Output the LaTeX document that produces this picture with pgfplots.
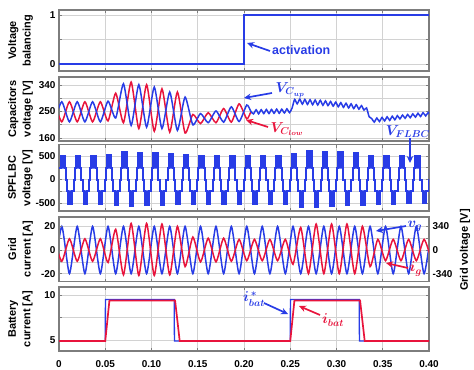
\documentclass[border=0pt]{standalone}
\usepackage{pgfplots}
\pgfplotsset{compat=1.18}
\usepackage{amsmath}
\usepackage{fontspec}
\setmainfont{Liberation Sans}
\usetikzlibrary{arrows.meta}
\definecolor{mblue}{RGB}{40,60,230}
\definecolor{mred}{RGB}{232,20,60}
\definecolor{frm}{RGB}{125,125,125}
\definecolor{grd}{RGB}{210,210,210}
\pgfplotsset{
  panel/.style={
    scale only axis, width=370bp, xmin=0, xmax=0.4,
    xtick={0,0.05,0.1,0.15,0.2,0.25,0.3,0.35,0.4},
    xticklabels={},
    grid=major, grid style={grd, line width=0.7bp},
    axis line style={frm, line width=1.1bp},
    tick style={frm, line width=0.8bp},
    major tick length=3bp,
    tick label style={font=\bfseries\fontsize{10}{12}\selectfont},
    anchor=north west,
  },
}
\tikzset{
  ylab/.style={rotate=90, align=center, font=\bfseries\fontsize{11}{14.5}\selectfont},
  arr/.style={line width=1.7bp, -{Stealth[length=7bp,width=6.5bp]}},
  ann/.style={font=\fontsize{14.5}{14.5}\selectfont, inner sep=0.5bp},
}
\begin{document}
\begin{tikzpicture}
\useasboundingbox (0,0) rectangle (474bp,-370bp);

% ---------- Panel 1
\begin{axis}[panel, at={(59bp,-10bp)}, height=61bp, ymin=-0.14, ymax=1.1,
  ytick={0,0.5,1}, yticklabels={0,,1}]
\addplot[mblue, line width=1.3bp] coordinates {(0,0) (0.2,0) (0.2,1) (0.4,1)};
\end{axis}

% ---------- Panel 2
\begin{axis}[panel, at={(59bp,-77bp)}, height=64bp, ymin=150, ymax=367,
  ytick={160,205,250,295,340}, yticklabels={160,,250,,340}]
\addplot[mred, line width=1.5bp, smooth, tension=0.36] coordinates {
(-0.0053,283) (0.0030,215) (0.0113,283) (0.0197,215) (0.0280,283) (0.0363,215) (0.0447,283)
(0.0530,218) (0.0613,312) (0.0697,212) (0.0780,350) (0.0863,192) (0.0947,341) (0.1030,183)
(0.1113,327) (0.1197,180) (0.1280,316) (0.1363,177) (0.1447,240) (0.1530,209) (0.1613,246)
(0.1697,212) (0.1780,260) (0.1863,214) (0.1947,276) (0.2030,225) (0.2075,250)};
\addplot[mblue, line width=1.5bp, smooth, tension=0.36] coordinates {
(-0.0053,215) (0.0030,283) (0.0113,215) (0.0197,283) (0.0280,215) (0.0363,283) (0.0447,215)
(0.0530,285) (0.0613,228) (0.0697,344) (0.0780,203) (0.0863,341) (0.0947,197) (0.1030,333)
(0.1113,192) (0.1197,316) (0.1280,186) (0.1363,299) (0.1447,205) (0.1530,243) (0.1613,212)
(0.1697,252) (0.1780,214) (0.1863,266) (0.1947,216) (0.2030,272) (0.2075,250)
(0.2103,242) (0.2131,256) (0.2158,242) (0.2186,256) (0.2214,243) (0.2242,257) (0.2270,243)
(0.2297,257) (0.2325,244) (0.2353,258) (0.2381,244) (0.2408,258) (0.2436,245) (0.2464,259)
(0.2492,246) (0.2520,262) (0.2547,291) (0.2575,276) (0.2603,292) (0.2631,275) (0.2658,291)
(0.2686,274) (0.2714,290) (0.2742,273) (0.2769,289) (0.2797,272) (0.2825,288) (0.2853,271)
(0.2881,286) (0.2908,270) (0.2936,284) (0.2964,268) (0.2992,282) (0.3019,266) (0.3047,280)
(0.3075,264) (0.3103,278) (0.3131,262) (0.3158,276) (0.3186,260) (0.3214,273) (0.3242,258)
(0.3270,270) (0.3297,255) (0.3325,262) (0.3353,232) (0.3381,226) (0.3408,214) (0.3436,228)
(0.3464,216) (0.3492,230) (0.3520,218) (0.3547,232) (0.3575,220) (0.3603,234) (0.3631,222)
(0.3658,236) (0.3686,225) (0.3714,238) (0.3742,227) (0.3769,240) (0.3797,229) (0.3825,242)
(0.3853,231) (0.3881,244) (0.3908,233) (0.3936,246) (0.3964,235) (0.3992,247) (0.4019,236)};
\end{axis}

% ---------- Panel 3
\begin{axis}[panel, at={(59bp,-144.5bp)}, height=66.5bp, ymin=-670, ymax=745,
  ytick={-500,-250,0,250,500}, yticklabels={-500,,0,,500}]
\addplot[mblue, line width=2bp, const plot] coordinates {
(0.0000,250)
(0.0018,510) (0.0065,250) (0.0075,0) (0.0088,-250) (0.0100,-520) (0.0137,-250) (0.0162,0) (0.0173,250)
(0.0185,510) (0.0232,250) (0.0242,0) (0.0255,-250) (0.0267,-520) (0.0304,-250) (0.0329,0) (0.0340,250)
(0.0351,510) (0.0398,250) (0.0408,0) (0.0421,-250) (0.0433,-525) (0.0470,-250) (0.0495,0) (0.0506,250)
(0.0518,520) (0.0565,250) (0.0575,0) (0.0588,-250) (0.0600,-535) (0.0637,-250) (0.0662,0) (0.0673,250)
(0.0685,585) (0.0732,250) (0.0742,0) (0.0755,-250) (0.0767,-555) (0.0804,-250) (0.0829,0) (0.0840,250)
(0.0851,570) (0.0898,250) (0.0908,0) (0.0921,-250) (0.0933,-550) (0.0970,-250) (0.0995,0) (0.1006,250)
(0.1018,555) (0.1065,250) (0.1075,0) (0.1088,-250) (0.1100,-540) (0.1137,-250) (0.1162,0) (0.1173,250)
(0.1185,535) (0.1232,250) (0.1242,0) (0.1255,-250) (0.1267,-525) (0.1304,-250) (0.1329,0) (0.1340,250)
(0.1351,515) (0.1398,250) (0.1408,0) (0.1421,-250) (0.1433,-520) (0.1470,-250) (0.1495,0) (0.1506,250)
(0.1518,510) (0.1565,250) (0.1575,0) (0.1588,-250) (0.1600,-520) (0.1637,-250) (0.1662,0) (0.1673,250)
(0.1685,505) (0.1732,250) (0.1742,0) (0.1755,-250) (0.1767,-520) (0.1804,-250) (0.1829,0) (0.1840,250)
(0.1851,505) (0.1898,250) (0.1908,0) (0.1921,-250) (0.1933,-520) (0.1970,-250) (0.1995,0) (0.2006,250)
(0.2018,500) (0.2065,250) (0.2075,0) (0.2088,-250) (0.2100,-520) (0.2137,-250) (0.2162,0) (0.2173,250)
(0.2185,500) (0.2232,250) (0.2242,0) (0.2255,-250) (0.2267,-525) (0.2304,-250) (0.2329,0) (0.2340,250)
(0.2351,505) (0.2398,250) (0.2408,0) (0.2421,-250) (0.2433,-530) (0.2470,-250) (0.2495,0) (0.2506,250)
(0.2518,545) (0.2565,250) (0.2575,0) (0.2588,-250) (0.2600,-590) (0.2637,-250) (0.2662,0) (0.2673,250)
(0.2685,615) (0.2732,250) (0.2742,0) (0.2755,-250) (0.2767,-575) (0.2804,-250) (0.2829,0) (0.2840,250)
(0.2851,595) (0.2898,250) (0.2908,0) (0.2921,-250) (0.2933,-565) (0.2970,-250) (0.2995,0) (0.3006,250)
(0.3018,575) (0.3065,250) (0.3075,0) (0.3088,-250) (0.3100,-550) (0.3137,-250) (0.3162,0) (0.3173,250)
(0.3185,555) (0.3232,250) (0.3242,0) (0.3255,-250) (0.3267,-540) (0.3304,-250) (0.3329,0) (0.3340,250)
(0.3351,505) (0.3398,250) (0.3408,0) (0.3421,-250) (0.3433,-525) (0.3470,-250) (0.3495,0) (0.3506,250)
(0.3518,495) (0.3565,250) (0.3575,0) (0.3588,-250) (0.3600,-515) (0.3637,-250) (0.3662,0) (0.3673,250)
(0.3685,490) (0.3732,250) (0.3742,0) (0.3755,-250) (0.3767,-510) (0.3804,-250) (0.3829,0) (0.3840,250)
(0.3851,490) (0.3898,250) (0.3908,0) (0.3921,-250) (0.3933,-510) (0.3970,-250) (0.3995,0) (0.4010,0)};
\addplot[mblue, fill=mblue, draw=none, unbounded coords=jump] coordinates {
(0.0018,230) (0.0018,510) (0.0065,510) (0.0065,230) (0.0065,nan)
(0.0100,-230) (0.0100,-520) (0.0137,-520) (0.0137,-230) (0.0137,nan)
(0.0185,230) (0.0185,510) (0.0232,510) (0.0232,230) (0.0232,nan)
(0.0267,-230) (0.0267,-520) (0.0304,-520) (0.0304,-230) (0.0304,nan)
(0.0351,230) (0.0351,510) (0.0398,510) (0.0398,230) (0.0398,nan)
(0.0433,-230) (0.0433,-525) (0.0470,-525) (0.0470,-230) (0.0470,nan)
(0.0518,230) (0.0518,520) (0.0565,520) (0.0565,230) (0.0565,nan)
(0.0600,-230) (0.0600,-535) (0.0637,-535) (0.0637,-230) (0.0637,nan)
(0.0685,230) (0.0685,585) (0.0732,585) (0.0732,230) (0.0732,nan)
(0.0767,-230) (0.0767,-555) (0.0804,-555) (0.0804,-230) (0.0804,nan)
(0.0851,230) (0.0851,570) (0.0898,570) (0.0898,230) (0.0898,nan)
(0.0933,-230) (0.0933,-550) (0.0970,-550) (0.0970,-230) (0.0970,nan)
(0.1018,230) (0.1018,555) (0.1065,555) (0.1065,230) (0.1065,nan)
(0.1100,-230) (0.1100,-540) (0.1137,-540) (0.1137,-230) (0.1137,nan)
(0.1185,230) (0.1185,535) (0.1232,535) (0.1232,230) (0.1232,nan)
(0.1267,-230) (0.1267,-525) (0.1304,-525) (0.1304,-230) (0.1304,nan)
(0.1351,230) (0.1351,515) (0.1398,515) (0.1398,230) (0.1398,nan)
(0.1433,-230) (0.1433,-520) (0.1470,-520) (0.1470,-230) (0.1470,nan)
(0.1518,230) (0.1518,510) (0.1565,510) (0.1565,230) (0.1565,nan)
(0.1600,-230) (0.1600,-520) (0.1637,-520) (0.1637,-230) (0.1637,nan)
(0.1685,230) (0.1685,505) (0.1732,505) (0.1732,230) (0.1732,nan)
(0.1767,-230) (0.1767,-520) (0.1804,-520) (0.1804,-230) (0.1804,nan)
(0.1851,230) (0.1851,505) (0.1898,505) (0.1898,230) (0.1898,nan)
(0.1933,-230) (0.1933,-520) (0.1970,-520) (0.1970,-230) (0.1970,nan)
(0.2018,230) (0.2018,500) (0.2065,500) (0.2065,230) (0.2065,nan)
(0.2100,-230) (0.2100,-520) (0.2137,-520) (0.2137,-230) (0.2137,nan)
(0.2185,230) (0.2185,500) (0.2232,500) (0.2232,230) (0.2232,nan)
(0.2267,-230) (0.2267,-525) (0.2304,-525) (0.2304,-230) (0.2304,nan)
(0.2351,230) (0.2351,505) (0.2398,505) (0.2398,230) (0.2398,nan)
(0.2433,-230) (0.2433,-530) (0.2470,-530) (0.2470,-230) (0.2470,nan)
(0.2518,230) (0.2518,545) (0.2565,545) (0.2565,230) (0.2565,nan)
(0.2600,-230) (0.2600,-590) (0.2637,-590) (0.2637,-230) (0.2637,nan)
(0.2685,230) (0.2685,615) (0.2732,615) (0.2732,230) (0.2732,nan)
(0.2767,-230) (0.2767,-575) (0.2804,-575) (0.2804,-230) (0.2804,nan)
(0.2851,230) (0.2851,595) (0.2898,595) (0.2898,230) (0.2898,nan)
(0.2933,-230) (0.2933,-565) (0.2970,-565) (0.2970,-230) (0.2970,nan)
(0.3018,230) (0.3018,575) (0.3065,575) (0.3065,230) (0.3065,nan)
(0.3100,-230) (0.3100,-550) (0.3137,-550) (0.3137,-230) (0.3137,nan)
(0.3185,230) (0.3185,555) (0.3232,555) (0.3232,230) (0.3232,nan)
(0.3267,-230) (0.3267,-540) (0.3304,-540) (0.3304,-230) (0.3304,nan)
(0.3351,230) (0.3351,505) (0.3398,505) (0.3398,230) (0.3398,nan)
(0.3433,-230) (0.3433,-525) (0.3470,-525) (0.3470,-230) (0.3470,nan)
(0.3518,230) (0.3518,495) (0.3565,495) (0.3565,230) (0.3565,nan)
(0.3600,-230) (0.3600,-515) (0.3637,-515) (0.3637,-230) (0.3637,nan)
(0.3685,230) (0.3685,490) (0.3732,490) (0.3732,230) (0.3732,nan)
(0.3767,-230) (0.3767,-510) (0.3804,-510) (0.3804,-230) (0.3804,nan)
(0.3851,230) (0.3851,490) (0.3898,490) (0.3898,230) (0.3898,nan)
(0.3933,-230) (0.3933,-510) (0.3970,-510) (0.3970,-230)};
\end{axis}

% ---------- Panel 4 (right axis, grid voltage)
\begin{axis}[panel, at={(59bp,-217bp)}, height=64.5bp, ymin=-452.2, ymax=474.3,
  axis y line*=right, ytick={-340,-170,0,170,340}, yticklabels={-340,,0,,340}]
\addplot[mblue, line width=1.5bp, smooth, tension=0.36] coordinates {
(-0.0053,-340) (0.0030,340) (0.0113,-340) (0.0197,340) (0.0280,-340) (0.0363,340) (0.0447,-340)
(0.0530,340) (0.0613,-340) (0.0697,340) (0.0780,-340) (0.0863,340) (0.0947,-340) (0.1030,340)
(0.1113,-340) (0.1197,340) (0.1280,-340) (0.1363,340) (0.1447,-340) (0.1530,340) (0.1613,-340)
(0.1697,340) (0.1780,-340) (0.1863,340) (0.1947,-340) (0.2030,340) (0.2113,-340) (0.2197,340)
(0.2280,-340) (0.2363,340) (0.2447,-340) (0.2530,340) (0.2613,-340) (0.2697,340) (0.2780,-340)
(0.2863,340) (0.2947,-340) (0.3030,340) (0.3113,-340) (0.3197,340) (0.3280,-340) (0.3363,340)
(0.3447,-340) (0.3530,340) (0.3613,-340) (0.3697,340) (0.3780,-340) (0.3863,340) (0.3947,-340)
(0.4030,340)};
\end{axis}
% ---------- Panel 4 (left axis, grid current)
\begin{axis}[panel, at={(59bp,-217bp)}, height=64.5bp, ymin=-26.6, ymax=27.9,
  grid=none, ytick pos=left, ytick={-20,-10,0,10,20}, yticklabels={-20,,0,,20}]
\addplot[mred, line width=1.5bp, smooth, tension=0.36] coordinates {
(-0.0053,9.5) (0.0030,-9.5) (0.0113,9.5) (0.0197,-9.5) (0.0280,9.5) (0.0363,-9.5) (0.0447,9.5)
(0.0530,-10.5) (0.0613,17.5) (0.0697,-21) (0.0780,22.5) (0.0863,-21.5) (0.0947,22.5) (0.1030,-21.5)
(0.1113,22) (0.1197,-21) (0.1280,20) (0.1363,-14) (0.1447,11) (0.1530,-10) (0.1613,10)
(0.1697,-10) (0.1780,10) (0.1863,-9.5) (0.1947,9) (0.2030,-9) (0.2113,9) (0.2197,-9)
(0.2280,9) (0.2363,-9) (0.2447,9) (0.2530,-12) (0.2613,19) (0.2697,-20) (0.2780,22)
(0.2863,-20) (0.2947,22) (0.3030,-20) (0.3113,22) (0.3197,-20) (0.3280,20) (0.3363,-14)
(0.3447,9) (0.3530,-9) (0.3613,9) (0.3697,-9) (0.3780,9) (0.3863,-9) (0.3947,9) (0.4030,-9)};
\end{axis}

% ---------- Panel 5
\begin{axis}[panel, at={(59bp,-287bp)}, height=64bp, ymin=3.8, ymax=10.9,
  ytick={5,7.5,10}, yticklabels={5,,10},
  xticklabels={0,0.05,0.10,0.15,0.20,0.25,0.30,0.35,0.40},
  xticklabel style={yshift=-6bp}]
\addplot[mblue, line width=1.3bp] coordinates {
(0,4.9) (0.0500,4.9) (0.0502,9.52) (0.1245,9.52) (0.1248,4.9) (0.2500,4.9) (0.2502,9.52)
(0.3245,9.52) (0.3248,4.9) (0.4,4.9)};
\addplot[mred, line width=1.7bp] coordinates {
(0,4.9) (0.0500,4.9) (0.0545,9.40) (0.1255,9.40) (0.1305,4.9) (0.2500,4.9) (0.2545,9.40)
(0.3255,9.40) (0.3305,4.9) (0.4,4.9)};
\end{axis}

% ---------- y labels
\node[ylab] at (20.5bp,-40.5bp) {Voltage\\balancing};
\node[ylab] at (20.5bp,-109bp) {Capacitors\\voltage [V]};
\node[ylab] at (20.5bp,-178bp) {SPFLBC\\voltage [V]};
\node[ylab] at (20.5bp,-249bp) {Grid\\current [A]};
\node[ylab] at (20.5bp,-319bp) {Battery\\current [A]};
\node[ylab] at (465bp,-250bp) {Grid voltage [V]};

% ---------- annotations
\draw[arr, mblue] (270bp,-51bp) -- (247bp,-43bp);
\node[anchor=west, mblue, font=\bfseries\fontsize{12.5}{13}\selectfont, inner sep=0pt] at (272bp,-50bp) {activation};

\draw[arr, mblue] (272bp,-93bp) -- (244bp,-98bp);
\node[ann, anchor=west, mblue] at (275bp,-90bp) {$\boldsymbol{V_{C_{up}}}$};
\draw[arr, mred] (268bp,-127bp) -- (246bp,-120bp);
\node[ann, anchor=west, mred] at (270bp,-129bp) {$\boldsymbol{V_{C_{low}}}$};

\node[ann, mblue] at (408bp,-131.5bp) {$\boldsymbol{V_{FLBC}}$};
\draw[arr, mblue] (410bp,-138bp) -- (410bp,-163bp);

\draw[arr, mblue] (406bp,-226bp) -- (376bp,-231bp);
\node[ann, anchor=west, mblue] at (407bp,-226bp) {$\boldsymbol{v_g}$};
\draw[arr, mred] (408bp,-268bp) -- (386bp,-263bp);
\node[ann, anchor=west, mred] at (409bp,-269bp) {$\boldsymbol{i_g}$};

\node[ann, mblue] at (254bp,-299bp) {$\boldsymbol{i_{bat}^{\,*}}$};
\draw[arr, mblue] (264bp,-303bp) -- (288bp,-314bp);
\node[ann, mred] at (333bp,-320bp) {$\boldsymbol{i_{bat}}$};
\draw[arr, mred] (320bp,-315bp) -- (299bp,-306bp);
\end{tikzpicture}
\end{document}
